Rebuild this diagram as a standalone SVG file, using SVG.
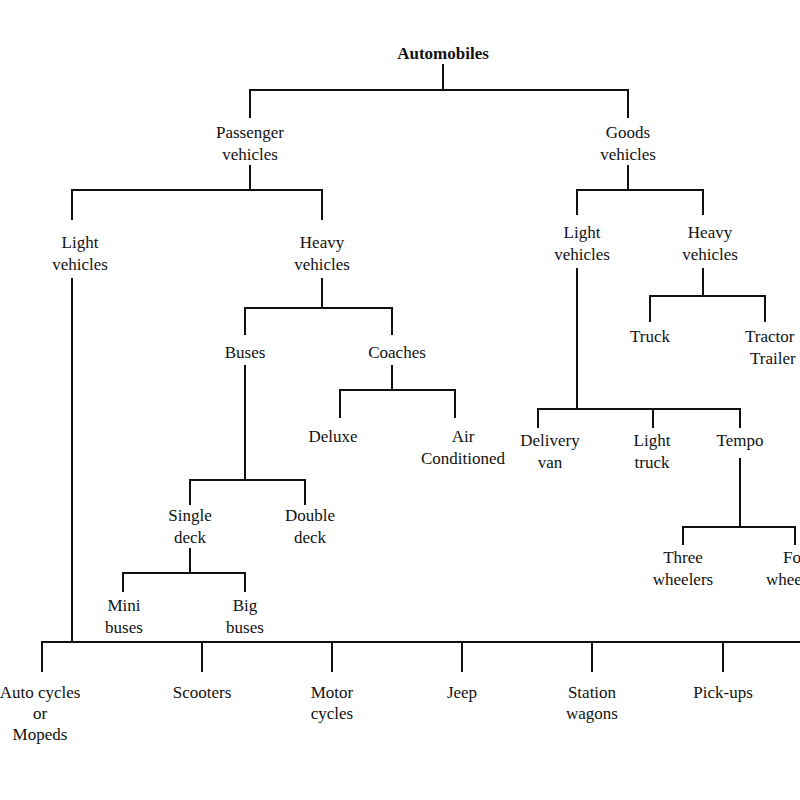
<svg xmlns="http://www.w3.org/2000/svg" width="800" height="800" viewBox="0 0 800 800">
<style>
text{font-family:"Liberation Serif","Times New Roman",serif;font-size:17px;fill:#111;text-anchor:middle}
.b{font-weight:bold}
.l{text-anchor:start}
#c path{stroke:#111;stroke-width:2;fill:none}
</style>
<rect width="800" height="800" fill="#fff"/>
<g id="c"><path d="M443,64V90M250,118V90H628V118
M250,165V190M72,220V190H322V220
M72,278V642M322,278V308M245,335V308H392V335
M392,365V390M340,418V390H455V418
M245,365V480M190,505V480H305V505
M190,548V573M123,592V573H245V592
M42,672V642H800M202,642V672M332,642V672M462,642V672M592,642V672M723,642V672
M628,165V190M577,215V190H703V215
M703,268V296M650,322V296H765V322
M577,268V409M538,428V409H740V428M653,409V428
M740,458V527M683,545V527H795V545"/></g>
<g id="n0"><text class="b" x="443" y="59">Automobiles</text></g>
<g id="n1"><text x="250" y="138">Passenger</text><text x="250" y="160">vehicles</text></g>
<g id="n2"><text x="628" y="138">Goods</text><text x="628" y="160">vehicles</text></g>
<g id="n3"><text x="80" y="248">Light</text><text x="80" y="270">vehicles</text></g>
<g id="n4"><text x="322" y="248">Heavy</text><text x="322" y="270">vehicles</text></g>
<g id="n5"><text x="245" y="358">Buses</text></g>
<g id="n6"><text x="397" y="358">Coaches</text></g>
<g id="n7"><text x="333" y="442">Deluxe</text></g>
<g id="n8"><text x="463" y="442">Air</text><text x="463" y="464">Conditioned</text></g>
<g id="n9"><text x="190" y="521">Single</text><text x="190" y="543">deck</text></g>
<g id="n10"><text x="310" y="521">Double</text><text x="310" y="543">deck</text></g>
<g id="n11"><text x="124" y="611">Mini</text><text x="124" y="633">buses</text></g>
<g id="n12"><text x="245" y="611">Big</text><text x="245" y="633">buses</text></g>
<g id="n13"><text x="40" y="698">Auto cycles</text><text x="40" y="719">or</text><text x="40" y="740">Mopeds</text></g>
<g id="n14"><text x="202" y="698">Scooters</text></g>
<g id="n15"><text x="332" y="698">Motor</text><text x="332" y="719">cycles</text></g>
<g id="n16"><text x="462" y="698">Jeep</text></g>
<g id="n17"><text x="592" y="698">Station</text><text x="592" y="719">wagons</text></g>
<g id="n18"><text x="723" y="698">Pick-ups</text></g>
<g id="n19"><text x="582" y="238">Light</text><text x="582" y="260">vehicles</text></g>
<g id="n20"><text x="710" y="238">Heavy</text><text x="710" y="260">vehicles</text></g>
<g id="n21"><text x="650" y="342">Truck</text></g>
<g id="n22"><text class="l" x="745" y="342">Tractor</text><text class="l" x="750" y="364">Trailer</text></g>
<g id="n23"><text x="550" y="446">Delivery</text><text x="550" y="468">van</text></g>
<g id="n24"><text x="652" y="446">Light</text><text x="652" y="468">truck</text></g>
<g id="n25"><text x="740" y="446">Tempo</text></g>
<g id="n26"><text x="683" y="563">Three</text><text x="683" y="585">wheelers</text></g>
<g id="n27"><text class="l" x="783" y="563">Four</text><text class="l" x="766" y="585">wheelers</text></g>
</svg>
